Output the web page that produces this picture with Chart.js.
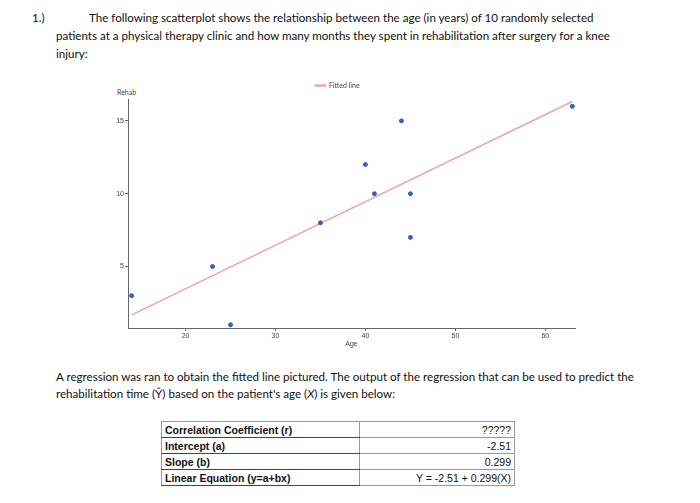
<!DOCTYPE html>
<html><head><meta charset="utf-8">
<script src="https://cdn.jsdelivr.net/npm/chart.js@4"></script>
<style>
body{margin:0;background:#fff;width:700px;height:503px;position:relative;overflow:hidden;font-family:Lato,"Open Sans",sans-serif;color:#111}
.t{position:absolute;font-size:11.6px;white-space:nowrap}
#c{position:absolute;left:100px;top:72px}
table{position:absolute;left:161px;top:421px;border-collapse:collapse;font-family:"Liberation Sans",Arial,sans-serif;font-size:10.5px}
td{border:1px solid #999;height:15px;padding:0 3px;}
td.l{width:191px;font-weight:bold;border-bottom:1px solid #444}
td.r{width:148px;text-align:right}
</style></head><body>
<div class="t" style="left:32px;top:11px">1.)</div>
<div class="t" style="left:89px;top:11px">The following scatterplot shows the relationship between the age (in years) of 10 randomly selected</div>
<div class="t" style="left:56px;top:29px">patients at a physical therapy clinic and how many months they spent in rehabilitation after surgery for a knee</div>
<div class="t" style="left:56px;top:47px">injury:</div>
<div class="t" style="left:117px;top:88px;font-size:7px;color:#444">Rehab</div>
<canvas id="c" width="490" height="276" style="width:490px;height:276px"></canvas>
<div class="t" style="left:56px;top:370px">A regression was ran to obtain the fitted line pictured. The output of the regression that can be used to predict the</div>
<div class="t" style="left:56px;top:387px">rehabilitation time (Ŷ) based on the patient's age (<i>X</i>) is given below:</div>
<table>
<tr><td class="l">Correlation Coefficient (r)</td><td class="r">?????</td></tr>
<tr><td class="l">Intercept (a)</td><td class="r">-2.51</td></tr>
<tr><td class="l">Slope (b)</td><td class="r">0.299</td></tr>
<tr><td class="l">Linear Equation (y=a+bx)</td><td class="r">Y = -2.51 + 0.299(X)</td></tr>
</table>
<script>
const ages=[14,23,25,35,40,41,44,45,45,63];
const rehab=[3,5,1,8,12,10,15,10,7,16];
const fitX=[14,63];
const fitY=[1.68,16.33];
const xTicks=[20,30,40,50,60];
const yTicks=[5,10,15];
new Chart(document.getElementById('c'),{
 type:'scatter',
 data:{datasets:[
  {label:'Fitted line',type:'line',data:fitX.map((x,i)=>({x,y:fitY[i]})),borderColor:'#f2a4ad',backgroundColor:'#f2a4ad',borderWidth:1.5,pointRadius:0,order:2},
  {label:'pts',data:ages.map((x,i)=>({x,y:rehab[i]})),backgroundColor:'#3461b5',borderColor:'#3461b5',pointRadius:2,order:1}
 ]},
 options:{responsive:false,animation:false,
  layout:{padding:{right:15,top:0}},
  plugins:{tooltip:{enabled:false},
   legend:{labels:{filter:i=>i.text==='Fitted line',boxWidth:10,boxHeight:1,font:{size:7,family:'Lato'},color:'#444'}}},
  scales:{
   x:{type:'linear',min:13.6,max:63.3,afterBuildTicks:s=>{s.ticks=xTicks.map(v=>({value:v}))},
    afterFit:s=>{s.height=20},
    grid:{drawOnChartArea:false,tickLength:3,color:'#666'},border:{color:'#666'},
    ticks:{font:{size:7},color:'#444',padding:1},
    title:{display:true,text:'Age',font:{size:7},color:'#444',padding:0}},
   y:{min:0.78,max:16.5,afterBuildTicks:s=>{s.ticks=yTicks.map(v=>({value:v}))},
    afterFit:s=>{s.width=28},
    grid:{drawOnChartArea:false,tickLength:3,color:'#666'},border:{color:'#666'},
    ticks:{font:{size:7},color:'#444',padding:1}}
  }}
});
</script></body></html>
